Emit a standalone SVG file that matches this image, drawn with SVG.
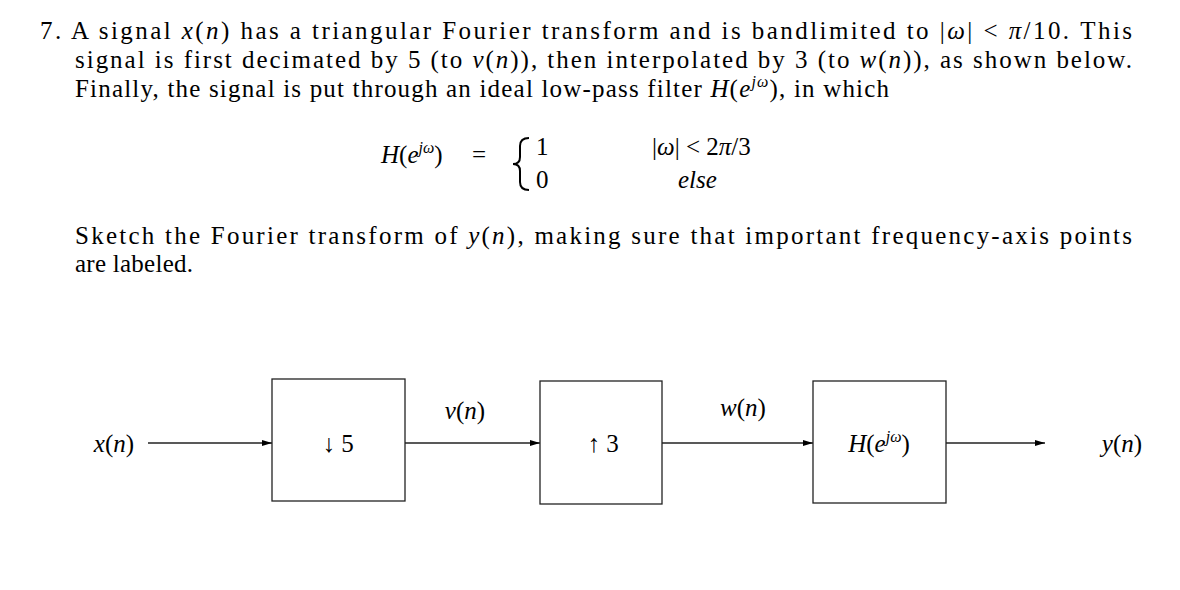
<svg xmlns="http://www.w3.org/2000/svg" width="1180" height="590" viewBox="0 0 1180 590">
<style>
text{font-family:"Liberation Serif","DejaVu Serif",serif;font-size:25px;fill:#000}
.i{font-style:italic}
.b{fill:#fff;stroke:#222;stroke-width:1.3}
.c{stroke:#222;stroke-width:1.3;fill:none;marker-end:url(#a)}
</style>
<defs><marker id="a" viewBox="0 0 10 6" refX="10" refY="3" markerWidth="10" markerHeight="6" markerUnits="userSpaceOnUse" orient="auto"><path d="M0,0L10,3L0,6z" fill="#000"/></marker></defs>
<rect width="1180" height="590" fill="#fff"/>
<g id="problem">
<text x="40" y="39" textLength="1092" lengthAdjust="spacing">7. A signal <tspan class="i">x</tspan>(<tspan class="i">n</tspan>) has a triangular Fourier transform and is bandlimited to |<tspan class="i">ω</tspan>| &lt; <tspan class="i">π</tspan>/10. This</text>
<text x="75" y="68" textLength="1057" lengthAdjust="spacing">signal is first decimated by 5 (to <tspan class="i">v</tspan>(<tspan class="i">n</tspan>)), then interpolated by 3 (to <tspan class="i">w</tspan>(<tspan class="i">n</tspan>)), as shown below.</text>
<text x="75" y="97" textLength="814" lengthAdjust="spacing">Finally, the signal is put through an ideal low-pass filter <tspan class="i">H</tspan>(<tspan class="i">e</tspan><tspan font-size="16" dy="-10" class="i">jω</tspan><tspan dy="10">), in which</tspan></text>
<text x="381" y="163"><tspan class="i">H</tspan>(<tspan class="i">e</tspan><tspan font-size="16" dy="-10" class="i">jω</tspan><tspan dy="10">)</tspan></text>
<text x="472" y="163">=</text>
<path d="M529,138 q-9,0 -9,8 v11 q0,7 -7,7 q7,0 7,7 v11 q0,8 9,8" fill="none" stroke="#000" stroke-width="2"/>
<text x="536" y="155">1</text>
<text x="536" y="188">0</text>
<text x="652" y="155">|<tspan class="i">ω</tspan>| &lt; 2<tspan class="i">π</tspan>/3</text>
<text x="678" y="188" class="i">else</text>
<text x="75" y="244" textLength="1057" lengthAdjust="spacing">Sketch the Fourier transform of <tspan class="i">y</tspan>(<tspan class="i">n</tspan>), making sure that important frequency-axis points</text>
<text x="75" y="272" textLength="118" lengthAdjust="spacing">are labeled.</text>
</g>
<g id="connectors">
<line class="c" x1="148" y1="443" x2="272" y2="443"/>
<line class="c" x1="405" y1="443" x2="540" y2="443"/>
<line class="c" x1="662" y1="443" x2="813" y2="443"/>
<line class="c" x1="946" y1="443" x2="1045" y2="443"/>
</g>
<g id="decim"><rect class="b" x="272" y="379" width="133" height="122"/><text x="338" y="452" text-anchor="middle">↓ 5</text></g>
<g id="interp"><rect class="b" x="540" y="381" width="122" height="123"/><text x="603" y="452" text-anchor="middle">↑ 3</text></g>
<g id="filter"><rect class="b" x="813" y="381" width="133" height="122"/><text x="879" y="452" text-anchor="middle"><tspan class="i">H</tspan>(<tspan class="i">e</tspan><tspan font-size="16" dy="-10" class="i">jω</tspan><tspan dy="10">)</tspan></text></g>
<g id="labels">
<text x="114" y="452" text-anchor="middle"><tspan class="i">x</tspan>(<tspan class="i">n</tspan>)</text>
<text x="465" y="419" text-anchor="middle"><tspan class="i">v</tspan>(<tspan class="i">n</tspan>)</text>
<text x="743" y="416" text-anchor="middle"><tspan class="i">w</tspan>(<tspan class="i">n</tspan>)</text>
<text x="1122" y="452" text-anchor="middle"><tspan class="i">y</tspan>(<tspan class="i">n</tspan>)</text>
</g>
</svg>
